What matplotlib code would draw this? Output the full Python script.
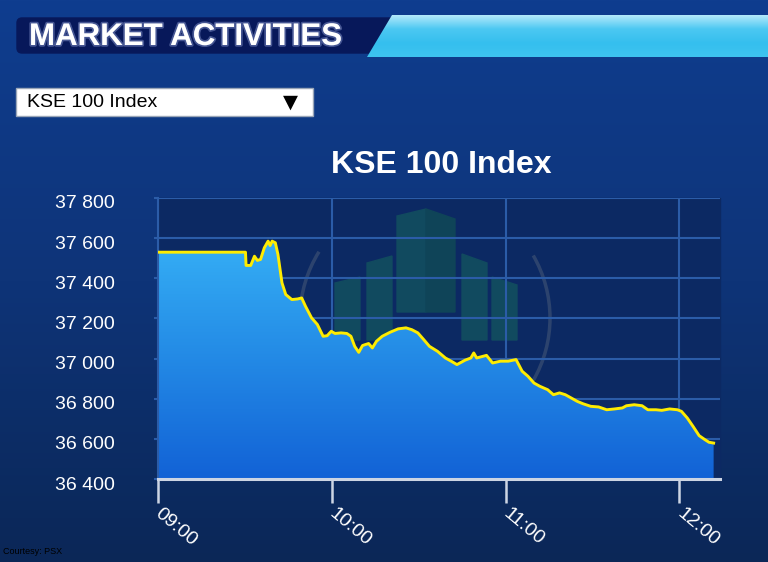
import numpy as np
import matplotlib
matplotlib.use("Agg")
import matplotlib.pyplot as plt
import matplotlib.transforms as mtransforms
import matplotlib.patheffects as pe
from matplotlib.colors import LinearSegmentedColormap
from matplotlib.patches import Rectangle, Polygon, FancyBboxPatch, Arc

plt.rcParams['font.family'] = ['Liberation Sans', 'DejaVu Sans']

# minutes after 09:00 and KSE 100 index level
minutes = [0, 30.2, 30.4, 32, 33.3, 34.3, 35.4, 36.7, 38, 38.7, 39.4, 40.5, 41.4,
           42.8, 44.1, 46.2, 48.2, 49.6, 50.9, 53, 55, 57, 58.4, 59.8, 61.1, 63.2,
           65.2, 66.6, 67.9, 69.3, 70.6, 72.7, 74, 75.4, 77.4, 80.1, 82.9, 85.6,
           87.6, 89.7, 91.7, 93.7, 96.5, 99.2, 101.2, 103.2, 106, 108, 109, 110,
           112.1, 113.4, 115.5, 118.2, 120.9, 123.6, 125.7, 127.7, 129.8, 131.8,
           134.5, 136.5, 138.6, 140.6, 142.6, 144.7, 146.7, 149.4, 152.1, 154.9,
           157.6, 160.3, 161.7, 164.4, 167.1, 169.1, 171.9, 173.9, 176.6, 179.3,
           180.7, 182.7, 184.7, 186.8, 188.8, 190.2, 191.8]
index_values = [37530, 37530, 37464, 37464, 37510, 37489, 37494, 37552, 37585, 37563,
                37585, 37577, 37519, 37377, 37319, 37294, 37297, 37302, 37261, 37203,
                37170, 37111, 37114, 37136, 37125, 37128, 37125, 37111, 37061, 37031,
                37065, 37075, 37053, 37086, 37111, 37131, 37148, 37153, 37144, 37128,
                37095, 37061, 37036, 37003, 36987, 36970, 36992, 37003, 37028, 37003,
                37011, 37016, 36978, 36987, 36987, 36995, 36937, 36912, 36878, 36862,
                36845, 36820, 36829, 36820, 36804, 36787, 36775, 36762, 36759, 36745,
                36749, 36754, 36765, 36770, 36765, 36745, 36745, 36742, 36749, 36745,
                36737, 36704, 36662, 36616, 36596, 36583, 36579]
x_ticks = [0, 60, 120, 180]
x_labels = ['09:00', '10:00', '11:00', '12:00']
y_ticks = [36400, 36600, 36800, 37000, 37200, 37400, 37600, 37800]

W, H = 768, 562
fig = plt.figure(figsize=(W / 100, H / 100), dpi=100)

# background layer in pixel coordinates
bg = fig.add_axes([0, 0, 1, 1], zorder=0)
bg.set_xlim(0, W)
bg.set_ylim(H, 0)
bg.axis('off')
grad = np.linspace(0, 1, 256).reshape(-1, 1)
bg_cmap = LinearSegmentedColormap.from_list('bg', ['#0f3d8f', '#0e3478', '#0b2757'])
bg.imshow(grad, cmap=bg_cmap, extent=(0, W, H, 0), aspect='auto', zorder=0)

# plot area
bg.add_patch(Rectangle((158, 198), 562, 281, color='#0c2963', zorder=1))

# watermark logo
wm = '#114a5f'
for pts in [[(335, 340), (335, 283), (360, 277), (360, 340)],
            [(367, 340), (367, 263), (392, 256), (392, 340)],
            [(397, 312), (397, 216), (426, 209), (426, 312)],
            [(462, 340), (462, 254), (487, 263), (487, 340)],
            [(492, 340), (492, 277), (517, 285), (517, 340)]]:
    bg.add_patch(Polygon(pts, closed=True, color=wm, zorder=2))
bg.add_patch(Polygon([(426, 312), (426, 209), (455, 219), (455, 312)],
                     closed=True, color='#0f4458', zorder=2))
for t1, t2 in [(150, 212), (-30, 30)]:
    bg.add_patch(Arc((425, 318), 250, 250, theta1=t1, theta2=t2,
                     color='#55647c', lw=2.5, alpha=0.45, zorder=2))

# banner
bg.add_patch(FancyBboxPatch((17, 18), 380, 35, boxstyle='round,pad=0,rounding_size=5',
                            color='#07185a', zorder=2))
banner = Polygon([(392, 15), (W, 15), (W, 57), (367, 57)], closed=True,
                 fc='none', ec='none', zorder=3)
bg.add_patch(banner)
ban_cmap = LinearSegmentedColormap.from_list('ban', ['#b4eafb', '#4cc8f2', '#35bfee', '#3ec4f0'])
bimg = bg.imshow(grad, cmap=ban_cmap, extent=(360, W, 57, 15), aspect='auto', zorder=3)
bimg.set_clip_path(banner)
bg.text(29, 37, 'MARKET ACTIVITIES', fontsize=22.5, fontweight='bold', color='white',
        va='center', ha='left', zorder=4,
        path_effects=[pe.withStroke(linewidth=2.5, foreground='#6f7fb8', alpha=0.6)])

# dropdown
bg.add_patch(Rectangle((16, 88), 297, 28, fc='white', ec='#9aa6b8', lw=1, zorder=2))
bg.text(27, 102.5, 'KSE 100 Index', fontsize=14, color='black', va='center', zorder=3)
bg.text(290, 102, '\u25bc', fontsize=14, color='black', va='center', ha='center',
        family='DejaVu Sans', zorder=3)

bg.text(3, 552, 'Courtesy: PSX', fontsize=6.5, color='black', va='center')
bg.set_xlim(0, W)
bg.set_ylim(H, 0)

# chart
ax = fig.add_axes([158 / W, 1 - 479 / H, 562 / W, 281 / H], zorder=1)
ax.set_facecolor('none')
ax.set_axisbelow(True)
ax.grid(True, color='#2b5ca8', lw=1.5)

poly = ax.fill_between(minutes, index_values, 36400, color='none', lw=0)
fill_cmap = LinearSegmentedColormap.from_list('fill', ['#1262d6', '#2690e8', '#3cbcfb'])
img = ax.imshow(grad, cmap=fill_cmap, origin='lower', extent=(0, 194, 36400, 37800),
                aspect='auto', zorder=1.5)
img.set_clip_path(poly.get_paths()[0], transform=ax.transData)
ax.plot(minutes, index_values, color='#ffec00', lw=2.1, zorder=3,
        solid_joinstyle='round')

ax.set_xlim(0, 194)
ax.set_ylim(36400, 37800)
ax.set_xticks(x_ticks)
ax.set_xticklabels(x_labels)
ax.set_yticks(y_ticks)
ax.set_yticklabels([f'{v:,}'.replace(',', ' ') for v in y_ticks])

for side in ['top', 'right']:
    ax.spines[side].set_visible(False)
ax.spines['left'].set_color('#2b5ca8')
ax.spines['left'].set_linewidth(1.5)
ax.spines['bottom'].set_color('#cdd5e4')
ax.spines['bottom'].set_linewidth(2.2)
ax.spines['bottom'].set_zorder(4)

ax.tick_params(axis='y', length=3, width=1.5, color='#2b5ca8', labelcolor='white',
               labelsize=14, pad=28)
ax.tick_params(axis='x', length=17, width=1.8, color='#cdd5e4', labelcolor='white',
               labelsize=14, pad=2)
xshift = mtransforms.ScaledTranslation(5 / 100, 0, fig.dpi_scale_trans)
for lab in ax.get_xticklabels():
    lab.set_rotation(-40)
    lab.set_ha('left')
    lab.set_va('top')
    lab.set_rotation_mode('anchor')
    lab.set_transform(lab.get_transform() + xshift)
yshift = mtransforms.ScaledTranslation(0, -4 / 100, fig.dpi_scale_trans)
for lab in ax.get_yticklabels():
    lab.set_transform(lab.get_transform() + yshift)

fig.text(441 / W, 1 - 165 / H, 'KSE 100 Index', ha='center', va='center',
         fontsize=23, fontweight='bold', color='white')

fig.savefig('out.png', dpi=100)
